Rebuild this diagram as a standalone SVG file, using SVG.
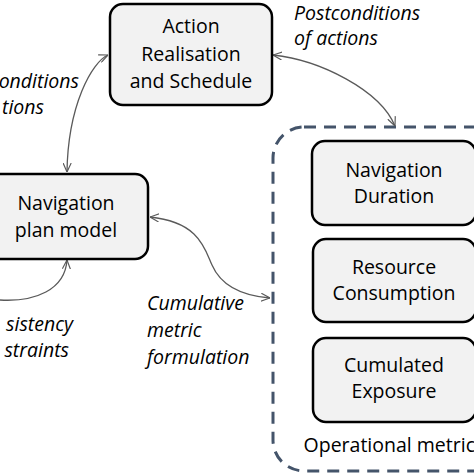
<svg xmlns="http://www.w3.org/2000/svg" width="474" height="474" viewBox="0 0 474 474">
<style>
.box{fill:#f2f2f2;stroke:#000;stroke-width:2.5}
.nt{font-family:"Open Sans","Liberation Sans",sans-serif;font-size:19.5px;fill:#000;text-anchor:middle}
.lb{font-family:"Open Sans","Liberation Sans",sans-serif;font-size:19.5px;font-style:italic;fill:#000}
.cn{fill:none;stroke:#5a5a5a;stroke-width:1.3}
</style>
<defs>
<marker id="ar" viewBox="0 0 10 10" refX="10" refY="5" markerWidth="9" markerHeight="9" markerUnits="userSpaceOnUse" orient="auto-start-reverse">
<path d="M0,0.5 L10,5 L0,9.5" fill="none" stroke="#5a5a5a" stroke-width="1.3"/>
</marker>
</defs>
<rect width="474" height="474" fill="#fff"/>
<g id="container">
<rect x="273" y="127" width="260" height="344" rx="31" fill="none" stroke="#44546a" stroke-width="3" stroke-dasharray="12 8"/>
<text class="nt" x="475" y="452" style="text-anchor:end">Operational metric</text>
</g>
<g id="connectors">
<path class="cn" d="M108,55 C92,62 68,105 67,172" marker-start="url(#ar)" marker-end="url(#ar)"/>
<path class="cn" d="M273,55 C320,60 380,90 395,126" marker-start="url(#ar)" marker-end="url(#ar)"/>
<path class="cn" d="M150,217 C200,222 205,250 212,265 C222,288 245,296 270,298" marker-start="url(#ar)" marker-end="url(#ar)"/>
<path class="cn" d="M0,300 C35,302 65,290 67,260" marker-end="url(#ar)"/>
</g>
<g id="labels">
<text class="lb" x="294" y="20">Postconditions</text>
<text class="lb" x="294" y="45">of actions</text>
<text class="lb" x="79" y="88" text-anchor="end">onditions</text>
<text class="lb" x="44" y="114" text-anchor="end">tions</text>
<text class="lb" x="73" y="331" text-anchor="end">sistency</text>
<text class="lb" x="69" y="357" text-anchor="end">straints</text>
<text class="lb" x="147" y="310">Cumulative</text>
<text class="lb" x="147" y="337">metric</text>
<text class="lb" x="147" y="364">formulation</text>
</g>
<g id="action">
<rect class="box" x="110" y="4" width="162" height="101" rx="13"/>
<text class="nt" x="191" y="33">Action</text>
<text class="nt" x="191" y="61">Realisation</text>
<text class="nt" x="191" y="88">and Schedule</text>
</g>
<g id="navplan">
<rect class="box" x="-16" y="174" width="164" height="85" rx="13"/>
<text class="nt" x="66" y="210">Navigation</text>
<text class="nt" x="66" y="237">plan model</text>
</g>
<g id="duration">
<rect class="box" x="312" y="141" width="164" height="84" rx="13"/>
<text class="nt" x="394" y="177">Navigation</text>
<text class="nt" x="394" y="203">Duration</text>
</g>
<g id="resource">
<rect class="box" x="313" y="239" width="163" height="83" rx="13"/>
<text class="nt" x="394" y="274">Resource</text>
<text class="nt" x="394" y="300">Consumption</text>
</g>
<g id="exposure">
<rect class="box" x="313" y="338" width="163" height="84" rx="13"/>
<text class="nt" x="394" y="372">Cumulated</text>
<text class="nt" x="394" y="398">Exposure</text>
</g>
</svg>
